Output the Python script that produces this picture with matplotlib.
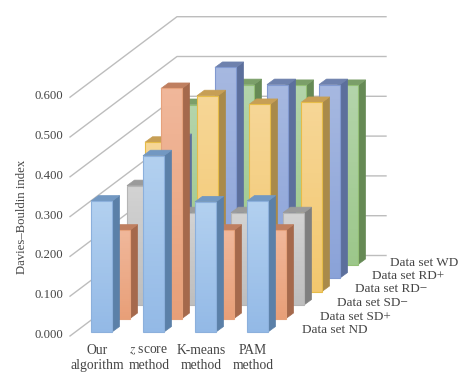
import matplotlib
matplotlib.use('Agg')
import numpy as np
from matplotlib import pyplot as plt
from matplotlib.colors import LinearSegmentedColormap
from matplotlib.patches import Polygon

plt.rcParams['font.family'] = ['Liberation Serif', 'DejaVu Serif']
plt.rcParams['mathtext.fontset'] = 'stix'

# values
categories = ['Our\nalgorithm', '$z$ score\nmethod', 'K-means\nmethod', 'PAM\nmethod']
series_names = ['Data set ND', 'Data set SD+', 'Data set SD\u2212',
                'Data set RD\u2212', 'Data set RD+', 'Data set WD']
nd = [0.329, 0.443, 0.327, 0.329]
sd_plus = [0.222, 0.578, 0.222, 0.222]
sd_minus = [0.300, 0.232, 0.232, 0.232]
rd_minus = [0.375, 0.492, 0.470, 0.475]
rd_plus = [0.348, 0.529, 0.486, 0.486]
wd = [0.402, 0.452, 0.450, 0.450]
series_values = [nd, sd_plus, sd_minus, rd_minus, rd_plus, wd]
y_ticks = [0.0, 0.1, 0.2, 0.3, 0.4, 0.5, 0.6]

# front top, front bottom, edge, side, roof
colors = [
    ('#b2d0ef', '#93b9e6', '#8cb0dc', '#5b80a8', '#7298c2'),
    ('#f0b79a', '#e89f78', '#e6a27c', '#a5694c', '#bf7f60'),
    ('#d2d2d2', '#bebebe', '#b5b5b5', '#7f7f7f', '#9b9b9b'),
    ('#f6d696', '#f2c76e', '#e6bc48', '#a98a4a', '#c79f55'),
    ('#a6b8e0', '#8aa2d8', '#8199d0', '#5c6f9c', '#6e81ad'),
    ('#b3d4aa', '#9cc78a', '#93bf76', '#668a55', '#7b9f69'),
]

# oblique projection, in pixels of the 474x390 picture
X0, Y0 = 91, 332
CAT_STEP = 52
SERIES_DX, SERIES_DY = 18, -13.5
BAR_W = 21
BAR_DX, BAR_DY = 7.5, -5.5
PX_PER_UNIT = 398


def project(cat, series, value=0.0):
    x = X0 + cat * CAT_STEP + series * SERIES_DX
    y = Y0 + series * SERIES_DY - value * PX_PER_UNIT
    return x, y


fig = plt.figure(figsize=(4.74, 3.9), dpi=100)
ax = fig.add_axes([0, 0, 1, 1])
ax.axis('off')

text_color = '#454545'
ramp = np.linspace(0, 1, 40).reshape(-1, 1)

# walls: slanted line on the side, straight line at the back
for t in y_ticks:
    yf = 336 - t * PX_PER_UNIT
    yb = 255.5 - t * PX_PER_UNIT
    ax.plot([70, 177, 386], [yf, yb, yb], color='#bdbdbd', lw=1.0, zorder=1)
    ax.text(63, yf - 1, f'{t:.3f}', ha='right', va='center', fontsize=9.2, color=text_color)

z = 2
for s in range(len(series_values) - 1, -1, -1):
    top, bottom, edge, side, roof = colors[s]
    cmap = LinearSegmentedColormap.from_list('face', [top, bottom])
    for c, val in enumerate(series_values[s]):
        x, yb = project(c, s)
        _, yt = project(c, s, val)
        ax.add_patch(Polygon([(x + BAR_W, yb), (x + BAR_W + BAR_DX, yb + BAR_DY),
                              (x + BAR_W + BAR_DX, yt + BAR_DY), (x + BAR_W, yt)],
                             facecolor=side, edgecolor=side, lw=0.5, zorder=z))
        ax.add_patch(Polygon([(x, yt), (x + BAR_W, yt), (x + BAR_W + BAR_DX, yt + BAR_DY),
                              (x + BAR_DX, yt + BAR_DY)],
                             facecolor=roof, edgecolor=roof, lw=0.5, zorder=z))
        ax.pcolormesh([x, x + BAR_W], np.linspace(yt, yb, 41), ramp, cmap=cmap,
                      shading='flat', antialiased=False, zorder=z)
        ax.add_patch(Polygon([(x, yb), (x + BAR_W, yb), (x + BAR_W, yt), (x, yt)],
                             facecolor='none', edgecolor=edge, lw=0.8, zorder=z))
        z += 1

for c, label in enumerate(categories):
    x, _ = project(c, 0)
    ax.text(x + 6, 358, label, ha='center', va='center', fontsize=9.8, color=text_color,
            linespacing=1.25, zorder=z)

for s, name in enumerate(series_names):
    x, y = project(4, s)
    ax.text(x + 3 - s * 0.4, y - 2, name, ha='left', va='center', fontsize=9.5,
            color=text_color, zorder=z)

ax.text(22, 217, 'Davies\u2013Bouldin index', rotation=90, ha='center', va='center',
        fontsize=9.2, color=text_color)

ax.set_xlim(0, 474)
ax.set_ylim(390, 0)

fig.savefig('out.png', dpi=100)
